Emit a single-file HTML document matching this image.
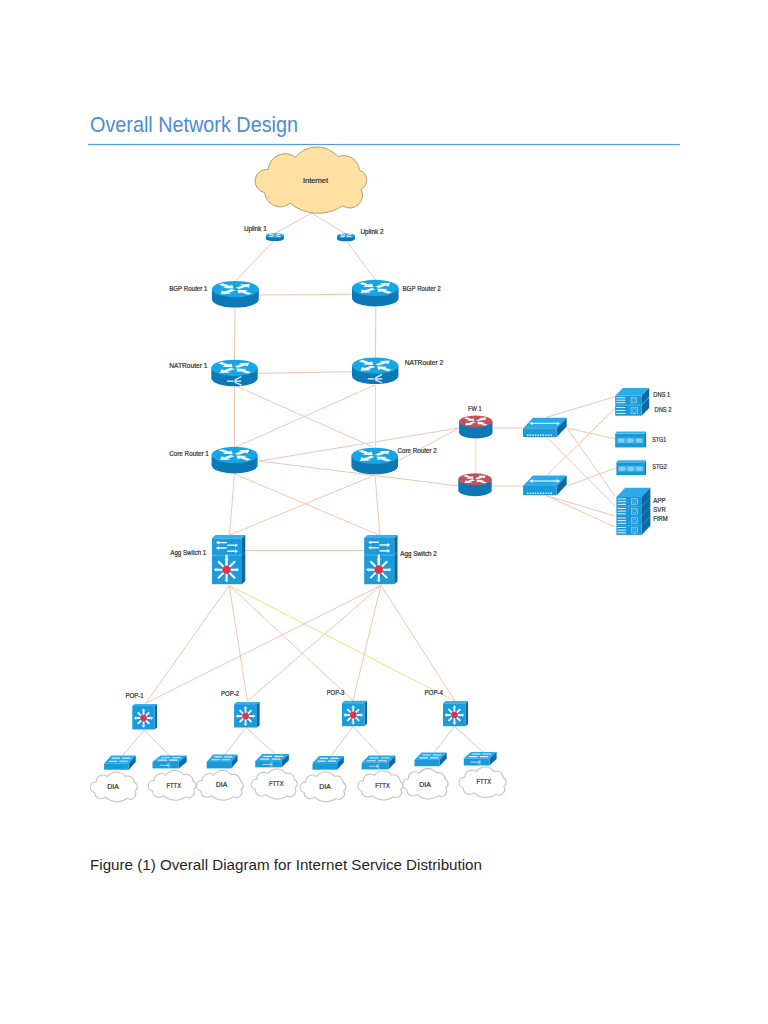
<!DOCTYPE html>
<html><head><meta charset="utf-8"><style>
html,body{margin:0;padding:0;background:#fff;width:768px;height:1024px;overflow:hidden}
svg{position:absolute;left:0;top:0;font-family:"Liberation Sans", sans-serif}
</style></head><body>
<svg width="768" height="1024" viewBox="0 0 768 1024">
<text x="90" y="132.4" font-size="21.6" fill="#4b8cd6" textLength="208" lengthAdjust="spacingAndGlyphs">Overall Network Design</text>
<rect x="88" y="143.9" width="592" height="1.2" fill="#5b96d8"/>
<line x1="311.5" y1="213" x2="275" y2="233.5" stroke="#efc6b0" stroke-width="1.0"/>
<line x1="311.5" y1="213" x2="346" y2="234" stroke="#efc6b0" stroke-width="1.0"/>
<line x1="274" y1="240.5" x2="235.5" y2="281" stroke="#efc6b0" stroke-width="1.0"/>
<line x1="346" y1="240.5" x2="375.5" y2="280" stroke="#efc6b0" stroke-width="1.0"/>
<line x1="258.7" y1="295" x2="352" y2="294.3" stroke="#efc6b0" stroke-width="1.0"/>
<line x1="235" y1="308" x2="234.5" y2="360" stroke="#efc6b0" stroke-width="1.0"/>
<line x1="375.8" y1="307" x2="375.5" y2="357.5" stroke="#efc6b0" stroke-width="1.0"/>
<line x1="257.5" y1="373.3" x2="352" y2="371.7" stroke="#efc6b0" stroke-width="1.0"/>
<line x1="234.5" y1="386" x2="234.5" y2="447" stroke="#efc6b0" stroke-width="1.0"/>
<line x1="236" y1="386" x2="373" y2="447" stroke="#efc6b0" stroke-width="1.0"/>
<line x1="375" y1="385" x2="236" y2="447" stroke="#efc6b0" stroke-width="1.0"/>
<line x1="375.5" y1="385" x2="375.5" y2="448" stroke="#f2dc86" stroke-width="1.0"/>
<line x1="259" y1="461" x2="459" y2="428" stroke="#efc6b0" stroke-width="1.0"/>
<line x1="259" y1="461" x2="459" y2="486" stroke="#efc6b0" stroke-width="1.0"/>
<line x1="398" y1="461" x2="459" y2="428" stroke="#efc6b0" stroke-width="1.0"/>
<line x1="234.5" y1="474" x2="229.5" y2="535" stroke="#efc6b0" stroke-width="1.0"/>
<line x1="234.5" y1="474" x2="379" y2="535" stroke="#efc6b0" stroke-width="1.0"/>
<line x1="375" y1="475" x2="230" y2="535" stroke="#efc6b0" stroke-width="1.0"/>
<line x1="375" y1="475" x2="380" y2="535" stroke="#efc6b0" stroke-width="1.0"/>
<line x1="245" y1="550.5" x2="364" y2="550.5" stroke="#efc6b0" stroke-width="1.0"/>
<line x1="475.8" y1="438" x2="475.8" y2="473" stroke="#f2dc86" stroke-width="1.0"/>
<line x1="492.5" y1="428" x2="523" y2="428" stroke="#efc6b0" stroke-width="1.0"/>
<line x1="491.7" y1="486" x2="523" y2="486" stroke="#efc6b0" stroke-width="1.0"/>
<line x1="546" y1="417.5" x2="615" y2="396.6" stroke="#efc6b0" stroke-width="1.0"/>
<line x1="567" y1="428" x2="615.5" y2="439" stroke="#efc6b0" stroke-width="1.0"/>
<line x1="567" y1="428" x2="615" y2="496" stroke="#efc6b0" stroke-width="1.0"/>
<line x1="546.6" y1="437" x2="615" y2="506" stroke="#efc6b0" stroke-width="1.0"/>
<line x1="546.6" y1="475.5" x2="615" y2="408.3" stroke="#efc6b0" stroke-width="1.0"/>
<line x1="567.5" y1="486" x2="616.4" y2="467.7" stroke="#efc6b0" stroke-width="1.0"/>
<line x1="546" y1="495.5" x2="615" y2="516" stroke="#efc6b0" stroke-width="1.0"/>
<line x1="546" y1="495.5" x2="615" y2="527" stroke="#efc6b0" stroke-width="1.0"/>
<line x1="229.2" y1="585.4" x2="145.6" y2="703.4" stroke="#efc6b0" stroke-width="1.0"/>
<line x1="229.2" y1="585.4" x2="247.5" y2="701" stroke="#efc6b0" stroke-width="1.0"/>
<line x1="229.2" y1="585.4" x2="353" y2="700.5" stroke="#efc6b0" stroke-width="1.0"/>
<line x1="229.2" y1="585.4" x2="455" y2="701" stroke="#f2dc86" stroke-width="1.0"/>
<line x1="381" y1="585.4" x2="145.6" y2="703.4" stroke="#efc6b0" stroke-width="1.0"/>
<line x1="381" y1="585.4" x2="247.5" y2="701" stroke="#efc6b0" stroke-width="1.0"/>
<line x1="381" y1="585.4" x2="353" y2="700.5" stroke="#efc6b0" stroke-width="1.0"/>
<line x1="381" y1="585.4" x2="455" y2="701" stroke="#efc6b0" stroke-width="1.0"/>
<line x1="144.3" y1="730" x2="122.5" y2="755.6" stroke="#c4cce6" stroke-width="1.0"/>
<line x1="144.3" y1="730" x2="169.4" y2="755.6" stroke="#c4cce6" stroke-width="1.0"/>
<line x1="246" y1="727.5" x2="225" y2="754.5" stroke="#c4cce6" stroke-width="1.0"/>
<line x1="246" y1="727.5" x2="275" y2="754" stroke="#c4cce6" stroke-width="1.0"/>
<line x1="353" y1="726.5" x2="331" y2="756" stroke="#c4cce6" stroke-width="1.0"/>
<line x1="353" y1="726.5" x2="380" y2="755.6" stroke="#c4cce6" stroke-width="1.0"/>
<line x1="454.5" y1="726.5" x2="434" y2="752.5" stroke="#c4cce6" stroke-width="1.0"/>
<line x1="454.5" y1="726.5" x2="483" y2="752" stroke="#c4cce6" stroke-width="1.0"/>
<path d="M268.22,169.54 A17.02,17.02 0 0 1 295.29,157.12 A28.18,28.18 0 0 1 338.14,156.66 A15.79,15.79 0 0 1 359.50,170.30 A10.24,10.24 0 0 1 361.00,189.24 A12.78,12.78 0 0 1 342.66,205.91 A44.31,44.31 0 0 1 290.02,203.18 A15.43,15.43 0 0 1 264.76,192.58 A11.65,11.65 0 0 1 268.22,169.54 Z" fill="#fde0a2" stroke="#9a8550" stroke-width="0.75" stroke-linejoin="round"/>
<path d="M265.9,235.5 L265.9,238.8 A9,2.3 0 0 0 283.9,238.8 L283.9,235.5 Z" fill="#0d78b6"/>
<ellipse cx="274.9" cy="235.5" rx="9" ry="2.3" fill="#18a5e6"/>
<path d="M268.50,234.24 L271.16,234.92 L270.11,235.19 L274.18,235.32 L273.67,234.28 L272.62,234.54 L269.96,233.86Z" fill="#f4fbff"/>
<path d="M281.30,236.76 L278.64,236.08 L279.69,235.81 L275.62,235.68 L276.13,236.72 L277.18,236.46 L279.84,237.14Z" fill="#f4fbff"/>
<path d="M276.35,235.50 L279.01,234.82 L280.06,235.09 L280.57,234.05 L276.50,234.18 L277.55,234.45 L274.89,235.13Z" fill="#f4fbff"/>
<path d="M273.45,235.50 L270.79,236.18 L269.74,235.91 L269.23,236.95 L273.30,236.82 L272.25,236.55 L274.91,235.87Z" fill="#f4fbff"/>
<path d="M337,235.70000000000002 L337,239.00000000000003 A9,2.3 0 0 0 355,239.00000000000003 L355,235.70000000000002 Z" fill="#0d78b6"/>
<ellipse cx="346" cy="235.70000000000002" rx="9" ry="2.3" fill="#18a5e6"/>
<path d="M339.60,234.44 L342.26,235.12 L341.21,235.39 L345.28,235.52 L344.77,234.48 L343.72,234.74 L341.06,234.06Z" fill="#f4fbff"/>
<path d="M352.40,236.96 L349.74,236.28 L350.79,236.01 L346.72,235.88 L347.23,236.92 L348.28,236.66 L350.94,237.34Z" fill="#f4fbff"/>
<path d="M347.45,235.70 L350.11,235.02 L351.16,235.29 L351.67,234.25 L347.60,234.38 L348.65,234.65 L345.99,235.33Z" fill="#f4fbff"/>
<path d="M344.55,235.70 L341.89,236.38 L340.84,236.11 L340.33,237.15 L344.40,237.02 L343.35,236.75 L346.01,236.07Z" fill="#f4fbff"/>
<path d="M212.0,289.1 L212.0,299.5 A23.4,8.1 0 0 0 258.8,299.5 L258.8,289.1 Z" fill="#0d78b6"/>
<ellipse cx="235.4" cy="289.1" rx="23.4" ry="8.1" fill="#18a5e6"/>
<path d="M218.76,284.66 L225.67,287.05 L222.94,287.99 L233.53,288.45 L232.20,284.79 L229.47,285.73 L222.56,283.34Z" fill="#f4fbff"/>
<path d="M252.04,293.54 L245.13,291.15 L247.86,290.21 L237.27,289.75 L238.60,293.41 L241.33,292.47 L248.24,294.86Z" fill="#f4fbff"/>
<path d="M239.17,289.11 L246.09,286.72 L248.82,287.66 L250.14,284.00 L239.55,284.46 L242.28,285.40 L235.37,287.79Z" fill="#f4fbff"/>
<path d="M231.63,289.09 L224.71,291.48 L221.98,290.54 L220.66,294.20 L231.25,293.74 L228.52,292.80 L235.43,290.41Z" fill="#f4fbff"/>
<path d="M352.0,287.90000000000003 L352.0,298.3 A23.3,8.1 0 0 0 398.6,298.3 L398.6,287.90000000000003 Z" fill="#0d78b6"/>
<ellipse cx="375.3" cy="287.90000000000003" rx="23.3" ry="8.1" fill="#18a5e6"/>
<path d="M358.73,283.46 L365.61,285.85 L362.89,286.79 L373.44,287.25 L372.12,283.59 L369.40,284.53 L362.52,282.14Z" fill="#f4fbff"/>
<path d="M391.87,292.34 L384.99,289.95 L387.71,289.01 L377.16,288.55 L378.48,292.21 L381.20,291.27 L388.08,293.66Z" fill="#f4fbff"/>
<path d="M379.06,287.91 L385.94,285.52 L388.66,286.46 L389.98,282.80 L379.43,283.26 L382.15,284.20 L375.27,286.59Z" fill="#f4fbff"/>
<path d="M371.54,287.89 L364.66,290.28 L361.94,289.34 L360.62,293.00 L371.17,292.54 L368.45,291.60 L375.33,289.21Z" fill="#f4fbff"/>
<path d="M211.3,367.8 L211.3,378.2 A23.2,8.1 0 0 0 257.7,378.2 L257.7,367.8 Z" fill="#0d78b6"/>
<ellipse cx="234.5" cy="367.8" rx="23.2" ry="8.1" fill="#18a5e6"/>
<path d="M218.00,363.36 L224.85,365.75 L222.14,366.69 L232.64,367.15 L231.33,363.49 L228.62,364.43 L221.77,362.04Z" fill="#f4fbff"/>
<path d="M251.00,372.24 L244.15,369.85 L246.86,368.91 L236.36,368.45 L237.67,372.11 L240.38,371.17 L247.23,373.56Z" fill="#f4fbff"/>
<path d="M238.24,367.81 L245.10,365.42 L247.80,366.36 L249.12,362.70 L238.62,363.16 L241.32,364.10 L234.47,366.49Z" fill="#f4fbff"/>
<path d="M230.76,367.79 L223.90,370.18 L221.20,369.24 L219.88,372.90 L230.38,372.44 L227.68,371.50 L234.53,369.11Z" fill="#f4fbff"/>
<g stroke="#e6f6ff" stroke-width="1.2" fill="none" stroke-linecap="round"><line x1="227.5" y1="381.1" x2="233.3" y2="381.1"/><path d="M241.0,376.8 L235.1,379.90000000000003 L235.1,382.3 L241.0,384.90000000000003 M235.1,381.1 L241.0,381.1"/></g>
<path d="M352.0,365.6 L352.0,376.0 A23.2,8.1 0 0 0 398.4,376.0 L398.4,365.6 Z" fill="#0d78b6"/>
<ellipse cx="375.2" cy="365.6" rx="23.2" ry="8.1" fill="#18a5e6"/>
<path d="M358.70,361.16 L365.55,363.55 L362.84,364.49 L373.34,364.95 L372.03,361.29 L369.32,362.23 L362.47,359.84Z" fill="#f4fbff"/>
<path d="M391.70,370.04 L384.85,367.65 L387.56,366.71 L377.06,366.25 L378.37,369.91 L381.08,368.97 L387.93,371.36Z" fill="#f4fbff"/>
<path d="M378.94,365.61 L385.80,363.22 L388.50,364.16 L389.82,360.50 L379.32,360.96 L382.02,361.90 L375.17,364.29Z" fill="#f4fbff"/>
<path d="M371.46,365.59 L364.60,367.98 L361.90,367.04 L360.58,370.70 L371.08,370.24 L368.38,369.30 L375.23,366.91Z" fill="#f4fbff"/>
<g stroke="#e6f6ff" stroke-width="1.2" fill="none" stroke-linecap="round"><line x1="368.2" y1="378.90000000000003" x2="374.0" y2="378.90000000000003"/><path d="M381.7,374.6 L375.8,377.70000000000005 L375.8,380.1 L381.7,382.70000000000005 M375.8,378.90000000000003 L381.7,378.90000000000003"/></g>
<path d="M211.6,454.90000000000003 L211.6,465.3 A23,8.1 0 0 0 257.6,465.3 L257.6,454.90000000000003 Z" fill="#0d78b6"/>
<ellipse cx="234.6" cy="454.90000000000003" rx="23" ry="8.1" fill="#18a5e6"/>
<path d="M218.24,450.46 L225.03,452.85 L222.35,453.79 L232.76,454.25 L231.46,450.59 L228.78,451.53 L221.98,449.14Z" fill="#f4fbff"/>
<path d="M250.96,459.34 L244.17,456.95 L246.85,456.01 L236.44,455.55 L237.74,459.21 L240.42,458.27 L247.22,460.66Z" fill="#f4fbff"/>
<path d="M238.31,454.91 L245.11,452.52 L247.79,453.46 L249.09,449.80 L238.68,450.26 L241.36,451.20 L234.57,453.59Z" fill="#f4fbff"/>
<path d="M230.89,454.89 L224.09,457.28 L221.41,456.34 L220.11,460.00 L230.52,459.54 L227.84,458.60 L234.63,456.21Z" fill="#f4fbff"/>
<path d="M351.4,455.8 L351.4,466.2 A23.3,8.1 0 0 0 398.0,466.2 L398.0,455.8 Z" fill="#0d78b6"/>
<ellipse cx="374.7" cy="455.8" rx="23.3" ry="8.1" fill="#18a5e6"/>
<path d="M358.13,451.36 L365.01,453.75 L362.29,454.69 L372.84,455.15 L371.52,451.49 L368.80,452.43 L361.92,450.04Z" fill="#f4fbff"/>
<path d="M391.27,460.24 L384.39,457.85 L387.11,456.91 L376.56,456.45 L377.88,460.11 L380.60,459.17 L387.48,461.56Z" fill="#f4fbff"/>
<path d="M378.46,455.81 L385.34,453.42 L388.06,454.36 L389.38,450.70 L378.83,451.16 L381.55,452.10 L374.67,454.49Z" fill="#f4fbff"/>
<path d="M370.94,455.79 L364.06,458.18 L361.34,457.24 L360.02,460.90 L370.57,460.44 L367.85,459.50 L374.73,457.11Z" fill="#f4fbff"/>
<path d="M459.1,421.4 L459.1,432.4 A16.7,6 0 0 0 492.5,432.4 L492.5,421.4 Z" fill="#0d78b6"/>
<ellipse cx="475.8" cy="421.4" rx="16.7" ry="6" fill="#c4505c"/>
<path d="M463.92,418.11 L468.85,419.88 L466.91,420.58 L474.46,420.92 L473.52,418.20 L471.57,418.90 L466.64,417.13Z" fill="#f4fbff"/>
<path d="M487.68,424.69 L482.75,422.92 L484.69,422.22 L477.14,421.88 L478.08,424.60 L480.03,423.90 L484.96,425.67Z" fill="#f4fbff"/>
<path d="M478.49,421.41 L483.43,419.64 L485.38,420.34 L486.32,417.62 L478.76,417.96 L480.71,418.66 L475.78,420.43Z" fill="#f4fbff"/>
<path d="M473.11,421.39 L468.17,423.16 L466.22,422.46 L465.28,425.18 L472.84,424.84 L470.89,424.14 L475.82,422.37Z" fill="#f4fbff"/>
<path d="M458.3,479.3 L458.3,490.3 A16.7,6 0 0 0 491.7,490.3 L491.7,479.3 Z" fill="#0d78b6"/>
<ellipse cx="475" cy="479.3" rx="16.7" ry="6" fill="#c4505c"/>
<path d="M463.12,476.01 L468.05,477.78 L466.11,478.48 L473.66,478.82 L472.72,476.10 L470.77,476.80 L465.84,475.03Z" fill="#f4fbff"/>
<path d="M486.88,482.59 L481.95,480.82 L483.89,480.12 L476.34,479.78 L477.28,482.50 L479.23,481.80 L484.16,483.57Z" fill="#f4fbff"/>
<path d="M477.69,479.31 L482.63,477.54 L484.58,478.24 L485.52,475.52 L477.96,475.86 L479.91,476.56 L474.98,478.33Z" fill="#f4fbff"/>
<path d="M472.31,479.29 L467.37,481.06 L465.42,480.36 L464.48,483.08 L472.04,482.74 L470.09,482.04 L475.02,480.27Z" fill="#f4fbff"/>
<path d="M523,428.4 L533,417.8 L566.7,417.8 L556.7,428.4 Z" fill="#2aaae8"/>
<path d="M556.7,428.4 L566.7,417.8 L566.7,426.40000000000003 L556.7,437 Z" fill="#0b6aa6"/>
<rect x="523" y="428.4" width="33.700000000000045" height="8.600000000000023" fill="#1a9ad9"/>
<g fill="#f0faff"><rect x="531.7" y="422.85" width="26.0" height="1.1"/><path d="M529.2,423.40000000000003 L532.7,421.70000000000005 L532.7,425.1 Z"/><path d="M560.2,423.40000000000003 L556.7,421.70000000000005 L556.7,425.1 Z"/></g>
<g fill="#e8f6fd"><rect x="527.00" y="434.4" width="1.5" height="1.4"/><rect x="529.60" y="434.4" width="1.5" height="1.4"/><rect x="532.20" y="434.4" width="1.5" height="1.4"/><rect x="534.80" y="434.4" width="1.5" height="1.4"/><rect x="537.40" y="434.4" width="1.5" height="1.4"/><rect x="540.00" y="434.4" width="1.5" height="1.4"/><rect x="542.60" y="434.4" width="1.5" height="1.4"/><rect x="545.20" y="434.4" width="1.5" height="1.4"/><rect x="547.80" y="434.4" width="1.5" height="1.4"/><rect x="550.40" y="434.4" width="1.5" height="1.4"/></g>
<path d="M523,486.0 L533,475.4 L566.7,475.4 L556.7,486.0 Z" fill="#2aaae8"/>
<path d="M556.7,486.0 L566.7,475.4 L566.7,484.59999999999997 L556.7,495.2 Z" fill="#0b6aa6"/>
<rect x="523" y="486.0" width="33.700000000000045" height="9.199999999999989" fill="#1a9ad9"/>
<g fill="#f0faff"><rect x="531.7" y="480.45" width="26.0" height="1.1"/><path d="M529.2,481.0 L532.7,479.3 L532.7,482.7 Z"/><path d="M560.2,481.0 L556.7,479.3 L556.7,482.7 Z"/></g>
<g fill="#e8f6fd"><rect x="527.00" y="492.59999999999997" width="1.5" height="1.4"/><rect x="529.60" y="492.59999999999997" width="1.5" height="1.4"/><rect x="532.20" y="492.59999999999997" width="1.5" height="1.4"/><rect x="534.80" y="492.59999999999997" width="1.5" height="1.4"/><rect x="537.40" y="492.59999999999997" width="1.5" height="1.4"/><rect x="540.00" y="492.59999999999997" width="1.5" height="1.4"/><rect x="542.60" y="492.59999999999997" width="1.5" height="1.4"/><rect x="545.20" y="492.59999999999997" width="1.5" height="1.4"/><rect x="547.80" y="492.59999999999997" width="1.5" height="1.4"/><rect x="550.40" y="492.59999999999997" width="1.5" height="1.4"/></g>
<path d="M615.2,405.2 L622.8000000000001,397.4 L649.2,397.4 L641.6,405.2 Z" fill="#5cc2f0"/>
<path d="M641.6,405.2 L649.2,397.4 L649.2,407.9 L641.6,415.7 Z" fill="#0b6aa6"/>
<rect x="615.2" y="405.2" width="26.399999999999977" height="10.5" fill="#1a98d8"/>
<g stroke="#eef9ff" stroke-width="0.95"><line x1="616.2" y1="407.51" x2="625.23" y2="407.51"/><line x1="616.2" y1="410.45" x2="625.23" y2="410.45"/><line x1="616.2" y1="413.39" x2="625.23" y2="413.39"/></g>
<rect x="631.04" y="407.19" width="6.51" height="6.51" fill="none" stroke="#a9dcf5" stroke-width="0.6"/>
<circle cx="634.30" cy="410.45" r="1.95" fill="none" stroke="#a9dcf5" stroke-width="0.5"/>
<path d="M615.2,395.8 L622.8000000000001,388.0 L649.2,388.0 L641.6,395.8 Z" fill="#2eaae6"/>
<path d="M641.6,395.8 L649.2,388.0 L649.2,396.8 L641.6,404.6 Z" fill="#0b6aa6"/>
<rect x="615.2" y="395.8" width="26.399999999999977" height="8.800000000000011" fill="#1a98d8"/>
<g stroke="#eef9ff" stroke-width="0.95"><line x1="616.2" y1="397.74" x2="625.23" y2="397.74"/><line x1="616.2" y1="400.20" x2="625.23" y2="400.20"/><line x1="616.2" y1="402.66" x2="625.23" y2="402.66"/></g>
<rect x="631.04" y="397.47" width="5.46" height="5.46" fill="none" stroke="#a9dcf5" stroke-width="0.6"/>
<circle cx="633.77" cy="400.20" r="1.64" fill="none" stroke="#a9dcf5" stroke-width="0.5"/>
<path d="M615.2,433.6 L616.7,431.6 L646.1,431.6 L645.1,433.6 Z" fill="#3ab2ea"/>
<path d="M645.1,433.6 L646.1,431.6 L646.1,446.4 L645.1,447.4 Z" fill="#0b6aa6"/>
<rect x="615.2" y="433.6" width="29.899999999999977" height="13.799999999999955" fill="#1a98d8"/>
<rect x="616.7" y="437.5" width="26.899999999999977" height="6" fill="#3aaee6"/>
<rect x="617.58" y="438.3" width="7.2" height="4.4" rx="2.2" fill="#6cc6f0"/>
<circle cx="619.98" cy="440.5" r="1.2" fill="none" stroke="#b6e4f8" stroke-width="0.5"/>
<circle cx="622.38" cy="440.5" r="1.2" fill="none" stroke="#b6e4f8" stroke-width="0.5"/>
<rect x="626.55" y="438.3" width="7.2" height="4.4" rx="2.2" fill="#6cc6f0"/>
<circle cx="628.95" cy="440.5" r="1.2" fill="none" stroke="#b6e4f8" stroke-width="0.5"/>
<circle cx="631.35" cy="440.5" r="1.2" fill="none" stroke="#b6e4f8" stroke-width="0.5"/>
<rect x="635.52" y="438.3" width="7.2" height="4.4" rx="2.2" fill="#6cc6f0"/>
<circle cx="637.92" cy="440.5" r="1.2" fill="none" stroke="#b6e4f8" stroke-width="0.5"/>
<circle cx="640.32" cy="440.5" r="1.2" fill="none" stroke="#b6e4f8" stroke-width="0.5"/>
<path d="M616.4,462.3 L617.9,460.3 L646.1,460.3 L645.1,462.3 Z" fill="#3ab2ea"/>
<path d="M645.1,462.3 L646.1,460.3 L646.1,474.2 L645.1,475.2 Z" fill="#0b6aa6"/>
<rect x="616.4" y="462.3" width="28.700000000000045" height="12.899999999999977" fill="#1a98d8"/>
<rect x="617.9" y="465.75" width="25.700000000000045" height="6" fill="#3aaee6"/>
<rect x="618.54" y="466.55" width="7.2" height="4.4" rx="2.2" fill="#6cc6f0"/>
<circle cx="620.94" cy="468.75" r="1.2" fill="none" stroke="#b6e4f8" stroke-width="0.5"/>
<circle cx="623.34" cy="468.75" r="1.2" fill="none" stroke="#b6e4f8" stroke-width="0.5"/>
<rect x="627.15" y="466.55" width="7.2" height="4.4" rx="2.2" fill="#6cc6f0"/>
<circle cx="629.55" cy="468.75" r="1.2" fill="none" stroke="#b6e4f8" stroke-width="0.5"/>
<circle cx="631.95" cy="468.75" r="1.2" fill="none" stroke="#b6e4f8" stroke-width="0.5"/>
<rect x="635.76" y="466.55" width="7.2" height="4.4" rx="2.2" fill="#6cc6f0"/>
<circle cx="638.16" cy="468.75" r="1.2" fill="none" stroke="#b6e4f8" stroke-width="0.5"/>
<circle cx="640.56" cy="468.75" r="1.2" fill="none" stroke="#b6e4f8" stroke-width="0.5"/>
<path d="M616.4,525.4 L625.1999999999999,516.1999999999999 L650.4,516.1999999999999 L641.6,525.4 Z" fill="#5cc2f0"/>
<path d="M641.6,525.4 L650.4,516.1999999999999 L650.4,525.6999999999999 L641.6,534.9 Z" fill="#0b6aa6"/>
<rect x="616.4" y="525.4" width="25.200000000000045" height="9.5" fill="#1a98d8"/>
<g stroke="#eef9ff" stroke-width="0.95"><line x1="617.4" y1="527.49" x2="625.98" y2="527.49"/><line x1="617.4" y1="530.15" x2="625.98" y2="530.15"/><line x1="617.4" y1="532.81" x2="625.98" y2="532.81"/></g>
<rect x="631.52" y="527.20" width="5.89" height="5.89" fill="none" stroke="#a9dcf5" stroke-width="0.6"/>
<circle cx="634.47" cy="530.15" r="1.77" fill="none" stroke="#a9dcf5" stroke-width="0.5"/>
<path d="M616.4,515.9 L625.1999999999999,506.7 L650.4,506.7 L641.6,515.9 Z" fill="#5cc2f0"/>
<path d="M641.6,515.9 L650.4,506.7 L650.4,516.1999999999999 L641.6,525.4 Z" fill="#0b6aa6"/>
<rect x="616.4" y="515.9" width="25.200000000000045" height="9.5" fill="#1a98d8"/>
<g stroke="#eef9ff" stroke-width="0.95"><line x1="617.4" y1="517.99" x2="625.98" y2="517.99"/><line x1="617.4" y1="520.65" x2="625.98" y2="520.65"/><line x1="617.4" y1="523.31" x2="625.98" y2="523.31"/></g>
<rect x="631.52" y="517.70" width="5.89" height="5.89" fill="none" stroke="#a9dcf5" stroke-width="0.6"/>
<circle cx="634.47" cy="520.65" r="1.77" fill="none" stroke="#a9dcf5" stroke-width="0.5"/>
<path d="M616.4,506.4 L625.1999999999999,497.2 L650.4,497.2 L641.6,506.4 Z" fill="#5cc2f0"/>
<path d="M641.6,506.4 L650.4,497.2 L650.4,506.7 L641.6,515.9 Z" fill="#0b6aa6"/>
<rect x="616.4" y="506.4" width="25.200000000000045" height="9.5" fill="#1a98d8"/>
<g stroke="#eef9ff" stroke-width="0.95"><line x1="617.4" y1="508.49" x2="625.98" y2="508.49"/><line x1="617.4" y1="511.15" x2="625.98" y2="511.15"/><line x1="617.4" y1="513.81" x2="625.98" y2="513.81"/></g>
<rect x="631.52" y="508.20" width="5.89" height="5.89" fill="none" stroke="#a9dcf5" stroke-width="0.6"/>
<circle cx="634.47" cy="511.15" r="1.77" fill="none" stroke="#a9dcf5" stroke-width="0.5"/>
<path d="M616.4,496.9 L625.1999999999999,487.7 L650.4,487.7 L641.6,496.9 Z" fill="#2eaae6"/>
<path d="M641.6,496.9 L650.4,487.7 L650.4,497.2 L641.6,506.4 Z" fill="#0b6aa6"/>
<rect x="616.4" y="496.9" width="25.200000000000045" height="9.5" fill="#1a98d8"/>
<g stroke="#eef9ff" stroke-width="0.95"><line x1="617.4" y1="498.99" x2="625.98" y2="498.99"/><line x1="617.4" y1="501.65" x2="625.98" y2="501.65"/><line x1="617.4" y1="504.31" x2="625.98" y2="504.31"/></g>
<rect x="631.52" y="498.70" width="5.89" height="5.89" fill="none" stroke="#a9dcf5" stroke-width="0.6"/>
<circle cx="634.47" cy="501.65" r="1.77" fill="none" stroke="#a9dcf5" stroke-width="0.5"/>
<path d="M212,538.3 L215.3,535.0 L245.3,535.0 L242,538.3 Z" fill="#35b0ea"/>
<path d="M242,538.3 L245.3,535.0 L245.3,580.9000000000001 L242,584.2 Z" fill="#0a69a3"/>
<rect x="212" y="538.3" width="30" height="45.90000000000009" fill="#1b9bdc"/>
<line x1="212" y1="555.283" x2="242" y2="555.283" stroke="#4cbaf0" stroke-width="1"/>
<line x1="242" y1="555.283" x2="245.3" y2="551.9830000000001" stroke="#3ea0d8" stroke-width="0.8"/>
<g stroke="#fff" stroke-width="1.4" fill="#fff"><line x1="218" y1="542.5999999999999" x2="226.7" y2="542.5999999999999"/><line x1="218" y1="548.0" x2="226.7" y2="548.0"/><line x1="227.3" y1="545.3" x2="236" y2="545.3"/><line x1="227.3" y1="551.1999999999999" x2="236" y2="551.1999999999999"/><path d="M216,542.5999999999999 L219,540.6999999999999 L219,544.4999999999999 Z" stroke="none"/><path d="M216,548.0 L219,546.1 L219,549.9 Z" stroke="none"/><path d="M238,545.3 L235,543.4 L235,547.1999999999999 Z" stroke="none"/><path d="M238,551.1999999999999 L235,549.3 L235,553.0999999999999 Z" stroke="none"/></g>
<line x1="226.55" y1="569.7415" x2="226.55" y2="554.7415" stroke="#fff" stroke-width="2"/>
<g stroke="#fff" stroke-width="2.0" fill="#fff"><line x1="226.55" y1="569.7415" x2="236.63" y2="569.74"/><path d="M239.15,569.74 L236.63,571.84 L236.63,567.64 Z" stroke="none"/><line x1="226.55" y1="569.7415" x2="235.01" y2="578.21"/><line x1="226.55" y1="569.7415" x2="226.55" y2="579.82"/><path d="M226.55,582.34 L224.45,579.82 L228.65,579.82 Z" stroke="none"/><line x1="226.55" y1="569.7415" x2="218.09" y2="578.21"/><line x1="226.55" y1="569.7415" x2="216.47" y2="569.74"/><path d="M213.95,569.74 L216.47,567.64 L216.47,571.84 Z" stroke="none"/><line x1="226.55" y1="569.7415" x2="218.09" y2="561.28"/><line x1="226.55" y1="569.7415" x2="226.55" y2="559.66"/><path d="M226.55,557.14 L228.65,559.66 L224.45,559.66 Z" stroke="none"/><line x1="226.55" y1="569.7415" x2="235.01" y2="561.28"/></g>
<circle cx="226.55" cy="569.7415" r="4.3" fill="#e2334a"/>
<path d="M364.2,538 L367.5,535.0 L397.5,535.0 L394.2,538 Z" fill="#35b0ea"/>
<path d="M394.2,538 L397.5,535.0 L397.5,581.2 L394.2,584.2 Z" fill="#0a69a3"/>
<rect x="364.2" y="538" width="30.0" height="46.200000000000045" fill="#1b9bdc"/>
<line x1="364.2" y1="555.094" x2="394.2" y2="555.094" stroke="#4cbaf0" stroke-width="1"/>
<line x1="394.2" y1="555.094" x2="397.5" y2="552.094" stroke="#3ea0d8" stroke-width="0.8"/>
<g stroke="#fff" stroke-width="1.4" fill="#fff"><line x1="370.2" y1="542.3" x2="378.9" y2="542.3"/><line x1="370.2" y1="547.7" x2="378.9" y2="547.7"/><line x1="379.5" y1="545.0" x2="388.2" y2="545.0"/><line x1="379.5" y1="550.9" x2="388.2" y2="550.9"/><path d="M368.2,542.3 L371.2,540.4 L371.2,544.1999999999999 Z" stroke="none"/><path d="M368.2,547.7 L371.2,545.8000000000001 L371.2,549.6 Z" stroke="none"/><path d="M390.2,545.0 L387.2,543.1 L387.2,546.9 Z" stroke="none"/><path d="M390.2,550.9 L387.2,549.0 L387.2,552.8 Z" stroke="none"/></g>
<line x1="378.75" y1="569.647" x2="378.75" y2="554.647" stroke="#fff" stroke-width="2"/>
<g stroke="#fff" stroke-width="2.0" fill="#fff"><line x1="378.75" y1="569.647" x2="388.83" y2="569.65"/><path d="M391.35,569.65 L388.83,571.75 L388.83,567.55 Z" stroke="none"/><line x1="378.75" y1="569.647" x2="387.21" y2="578.11"/><line x1="378.75" y1="569.647" x2="378.75" y2="579.73"/><path d="M378.75,582.25 L376.65,579.73 L380.85,579.73 Z" stroke="none"/><line x1="378.75" y1="569.647" x2="370.29" y2="578.11"/><line x1="378.75" y1="569.647" x2="368.67" y2="569.65"/><path d="M366.15,569.65 L368.67,567.55 L368.67,571.75 Z" stroke="none"/><line x1="378.75" y1="569.647" x2="370.29" y2="561.18"/><line x1="378.75" y1="569.647" x2="378.75" y2="559.57"/><path d="M378.75,557.05 L380.85,559.57 L376.65,559.57 Z" stroke="none"/><line x1="378.75" y1="569.647" x2="387.21" y2="561.18"/></g>
<circle cx="378.75" cy="569.647" r="4.3" fill="#e2334a"/>
<path d="M132.3,706 L134.60000000000002,704.1 L157.0,704.1 L154.7,706 Z" fill="#35b0ea"/>
<path d="M154.7,706 L157.0,704.1 L157.0,727.6 L154.7,729.5 Z" fill="#0a69a3"/>
<rect x="132.3" y="706" width="22.399999999999977" height="23.5" fill="#1b9bdc"/>
<g stroke="#fff" stroke-width="1.75" fill="#fff"><line x1="143.5" y1="718.05" x2="150.85" y2="718.05"/><path d="M153.13,718.05 L150.85,719.95 L150.85,716.15 Z" stroke="none"/><line x1="143.5" y1="718.05" x2="149.29" y2="723.84"/><line x1="143.5" y1="718.05" x2="143.50" y2="725.40"/><path d="M143.50,727.68 L141.60,725.40 L145.40,725.40 Z" stroke="none"/><line x1="143.5" y1="718.05" x2="137.71" y2="723.84"/><line x1="143.5" y1="718.05" x2="136.15" y2="718.05"/><path d="M133.87,718.05 L136.15,716.15 L136.15,719.95 Z" stroke="none"/><line x1="143.5" y1="718.05" x2="137.71" y2="712.26"/><line x1="143.5" y1="718.05" x2="143.50" y2="710.70"/><path d="M143.50,708.42 L145.40,710.70 L141.60,710.70 Z" stroke="none"/><line x1="143.5" y1="718.05" x2="149.29" y2="712.26"/></g>
<circle cx="143.5" cy="718.05" r="3.3599999999999963" fill="#e2334a"/>
<path d="M234.1,704.1 L236.7,701.9 L259.6,701.9 L257,704.1 Z" fill="#35b0ea"/>
<path d="M257,704.1 L259.6,701.9 L259.6,725.3 L257,727.5 Z" fill="#0a69a3"/>
<rect x="234.1" y="704.1" width="22.900000000000006" height="23.399999999999977" fill="#1b9bdc"/>
<g stroke="#fff" stroke-width="1.75" fill="#fff"><line x1="245.55" y1="716.0999999999999" x2="253.12" y2="716.10"/><path d="M255.40,716.10 L253.12,718.00 L253.12,714.20 Z" stroke="none"/><line x1="245.55" y1="716.0999999999999" x2="251.47" y2="722.02"/><line x1="245.55" y1="716.0999999999999" x2="245.55" y2="723.67"/><path d="M245.55,725.95 L243.65,723.67 L247.45,723.67 Z" stroke="none"/><line x1="245.55" y1="716.0999999999999" x2="239.63" y2="722.02"/><line x1="245.55" y1="716.0999999999999" x2="237.98" y2="716.10"/><path d="M235.70,716.10 L237.98,714.20 L237.98,718.00 Z" stroke="none"/><line x1="245.55" y1="716.0999999999999" x2="239.63" y2="710.18"/><line x1="245.55" y1="716.0999999999999" x2="245.55" y2="708.53"/><path d="M245.55,706.25 L247.45,708.53 L243.65,708.53 Z" stroke="none"/><line x1="245.55" y1="716.0999999999999" x2="251.47" y2="710.18"/></g>
<circle cx="245.55" cy="716.0999999999999" r="3.435000000000001" fill="#e2334a"/>
<path d="M341.9,703.2 L344.4,700.8000000000001 L367.0,700.8000000000001 L364.5,703.2 Z" fill="#35b0ea"/>
<path d="M364.5,703.2 L367.0,700.8000000000001 L367.0,723.8000000000001 L364.5,726.2 Z" fill="#0a69a3"/>
<rect x="341.9" y="703.2" width="22.600000000000023" height="23.0" fill="#1b9bdc"/>
<g stroke="#fff" stroke-width="1.75" fill="#fff"><line x1="353.2" y1="715.0" x2="360.64" y2="715.00"/><path d="M362.92,715.00 L360.64,716.90 L360.64,713.10 Z" stroke="none"/><line x1="353.2" y1="715.0" x2="359.04" y2="720.84"/><line x1="353.2" y1="715.0" x2="353.20" y2="722.44"/><path d="M353.20,724.72 L351.30,722.44 L355.10,722.44 Z" stroke="none"/><line x1="353.2" y1="715.0" x2="347.36" y2="720.84"/><line x1="353.2" y1="715.0" x2="345.76" y2="715.00"/><path d="M343.48,715.00 L345.76,713.10 L345.76,716.90 Z" stroke="none"/><line x1="353.2" y1="715.0" x2="347.36" y2="709.16"/><line x1="353.2" y1="715.0" x2="353.20" y2="707.56"/><path d="M353.20,705.28 L355.10,707.56 L351.30,707.56 Z" stroke="none"/><line x1="353.2" y1="715.0" x2="359.04" y2="709.16"/></g>
<circle cx="353.2" cy="715.0" r="3.3900000000000032" fill="#e2334a"/>
<path d="M443,703.4 L445.2,701.1 L468.0,701.1 L465.8,703.4 Z" fill="#35b0ea"/>
<path d="M465.8,703.4 L468.0,701.1 L468.0,723.9000000000001 L465.8,726.2 Z" fill="#0a69a3"/>
<rect x="443" y="703.4" width="22.80000000000001" height="22.800000000000068" fill="#1b9bdc"/>
<g stroke="#fff" stroke-width="1.75" fill="#fff"><line x1="454.4" y1="715.0999999999999" x2="461.92" y2="715.10"/><path d="M464.20,715.10 L461.92,717.00 L461.92,713.20 Z" stroke="none"/><line x1="454.4" y1="715.0999999999999" x2="460.29" y2="720.99"/><line x1="454.4" y1="715.0999999999999" x2="454.40" y2="722.62"/><path d="M454.40,724.90 L452.50,722.62 L456.30,722.62 Z" stroke="none"/><line x1="454.4" y1="715.0999999999999" x2="448.51" y2="720.99"/><line x1="454.4" y1="715.0999999999999" x2="446.88" y2="715.10"/><path d="M444.60,715.10 L446.88,713.20 L446.88,717.00 Z" stroke="none"/><line x1="454.4" y1="715.0999999999999" x2="448.51" y2="709.21"/><line x1="454.4" y1="715.0999999999999" x2="454.40" y2="707.58"/><path d="M454.40,705.30 L456.30,707.58 L452.50,707.58 Z" stroke="none"/><line x1="454.4" y1="715.0999999999999" x2="460.29" y2="709.21"/></g>
<circle cx="454.4" cy="715.0999999999999" r="3.4200000000000017" fill="#e2334a"/>
<path d="M104.1,763.4 L111.1,755.6 L135.75,755.6 L128.75,763.4 Z" fill="#2aaae8"/>
<path d="M128.75,763.4 L135.75,755.6 L135.75,761.9000000000001 L128.75,769.7 Z" fill="#0b6aa6"/>
<rect x="104.1" y="763.4" width="24.650000000000006" height="6.300000000000068" fill="#1a9ad9"/>
<g stroke="#d8f0fb" stroke-width="1.1" stroke-linecap="round"><line x1="112.24" y1="758.17" x2="119.64" y2="758.17"/><line x1="122.59" y1="758.17" x2="129.99" y2="758.17"/><line x1="109.51" y1="761.22" x2="116.91" y2="761.22"/><line x1="119.86" y1="761.22" x2="127.26" y2="761.22"/></g>
<path d="M152.5,761.9 L160.4,755.6 L186.65,755.6 L178.75,761.9 Z" fill="#2aaae8"/>
<path d="M178.75,761.9 L186.65,755.6 L186.65,762.1 L178.75,768.4 Z" fill="#0b6aa6"/>
<rect x="152.5" y="761.9" width="26.25" height="6.5" fill="#1a9ad9"/>
<g stroke="#d8f0fb" stroke-width="1.1" stroke-linecap="round"><line x1="161.47" y1="757.68" x2="169.34" y2="757.68"/><line x1="172.49" y1="757.68" x2="180.37" y2="757.68"/><line x1="158.39" y1="760.14" x2="166.26" y2="760.14"/><line x1="169.41" y1="760.14" x2="177.29" y2="760.14"/></g>
<g stroke="#c9ebfa" stroke-width="0.8" fill="none"><line x1="159.625" y1="765.35" x2="166.125" y2="765.35"/><path d="M169.625,763.15 L166.625,765.35 L169.625,767.5500000000001 M166.625,765.35 L170.125,765.35"/></g>
<path d="M206.7,761.9 L213.0,754.4 L237.55,754.4 L231.25,761.9 Z" fill="#2aaae8"/>
<path d="M231.25,761.9 L237.55,754.4 L237.55,760.9 L231.25,768.4 Z" fill="#0b6aa6"/>
<rect x="206.7" y="761.9" width="24.55000000000001" height="6.5" fill="#1a9ad9"/>
<g stroke="#d8f0fb" stroke-width="1.1" stroke-linecap="round"><line x1="214.36" y1="756.88" x2="221.72" y2="756.88"/><line x1="224.67" y1="756.88" x2="232.03" y2="756.88"/><line x1="211.90" y1="759.80" x2="219.27" y2="759.80"/><line x1="222.21" y1="759.80" x2="229.58" y2="759.80"/></g>
<path d="M255.2,761.1 L262.4,754 L288.9,754 L281.7,761.1 Z" fill="#2aaae8"/>
<path d="M281.7,761.1 L288.9,754 L288.9,760.1999999999999 L281.7,767.3 Z" fill="#0b6aa6"/>
<rect x="255.2" y="761.1" width="26.5" height="6.199999999999932" fill="#1a9ad9"/>
<g stroke="#d8f0fb" stroke-width="1.1" stroke-linecap="round"><line x1="263.73" y1="756.34" x2="271.68" y2="756.34"/><line x1="274.86" y1="756.34" x2="282.81" y2="756.34"/><line x1="260.93" y1="759.11" x2="268.88" y2="759.11"/><line x1="272.06" y1="759.11" x2="280.01" y2="759.11"/></g>
<g stroke="#c9ebfa" stroke-width="0.8" fill="none"><line x1="262.45" y1="764.4000000000001" x2="268.95" y2="764.4000000000001"/><path d="M272.45,762.2 L269.45,764.4000000000001 L272.45,766.6000000000001 M269.45,764.4000000000001 L272.95,764.4000000000001"/></g>
<path d="M312.5,763.1 L319.1,756 L343.8,756 L337.2,763.1 Z" fill="#2aaae8"/>
<path d="M337.2,763.1 L343.8,756 L343.8,762.6 L337.2,769.7 Z" fill="#0b6aa6"/>
<rect x="312.5" y="763.1" width="24.69999999999999" height="6.600000000000023" fill="#1a9ad9"/>
<g stroke="#d8f0fb" stroke-width="1.1" stroke-linecap="round"><line x1="320.38" y1="758.34" x2="327.79" y2="758.34"/><line x1="330.75" y1="758.34" x2="338.16" y2="758.34"/><line x1="317.81" y1="761.11" x2="325.22" y2="761.11"/><line x1="328.18" y1="761.11" x2="335.59" y2="761.11"/></g>
<path d="M361.7,762.7 L368.7,755.6 L395.3,755.6 L388.3,762.7 Z" fill="#2aaae8"/>
<path d="M388.3,762.7 L395.3,755.6 L395.3,762.3 L388.3,769.4 Z" fill="#0b6aa6"/>
<rect x="361.7" y="762.7" width="26.600000000000023" height="6.699999999999932" fill="#1a9ad9"/>
<g stroke="#d8f0fb" stroke-width="1.1" stroke-linecap="round"><line x1="370.11" y1="757.94" x2="378.09" y2="757.94"/><line x1="381.29" y1="757.94" x2="389.27" y2="757.94"/><line x1="367.38" y1="760.71" x2="375.36" y2="760.71"/><line x1="378.56" y1="760.71" x2="386.54" y2="760.71"/></g>
<g stroke="#c9ebfa" stroke-width="0.8" fill="none"><line x1="369.0" y1="766.25" x2="375.5" y2="766.25"/><path d="M379.0,764.05 L376.0,766.25 L379.0,768.45 M376.0,766.25 L379.5,766.25"/></g>
<path d="M414.5,760 L421.6,752.5 L446.6,752.5 L439.5,760 Z" fill="#2aaae8"/>
<path d="M439.5,760 L446.6,752.5 L446.6,758.75 L439.5,766.25 Z" fill="#0b6aa6"/>
<rect x="414.5" y="760" width="25.0" height="6.25" fill="#1a9ad9"/>
<g stroke="#d8f0fb" stroke-width="1.1" stroke-linecap="round"><line x1="422.76" y1="754.98" x2="430.26" y2="754.98"/><line x1="433.26" y1="754.98" x2="440.76" y2="754.98"/><line x1="419.99" y1="757.90" x2="427.49" y2="757.90"/><line x1="430.49" y1="757.90" x2="437.99" y2="757.90"/></g>
<path d="M463.75,758.4 L470.85,751.9 L496.6,751.9 L489.5,758.4 Z" fill="#2aaae8"/>
<path d="M489.5,758.4 L496.6,751.9 L496.6,759.0 L489.5,765.5 Z" fill="#0b6aa6"/>
<rect x="463.75" y="758.4" width="25.75" height="7.100000000000023" fill="#1a9ad9"/>
<g stroke="#d8f0fb" stroke-width="1.1" stroke-linecap="round"><line x1="472.11" y1="754.04" x2="479.84" y2="754.04"/><line x1="482.93" y1="754.04" x2="490.65" y2="754.04"/><line x1="469.34" y1="756.58" x2="477.07" y2="756.58"/><line x1="480.16" y1="756.58" x2="487.88" y2="756.58"/></g>
<g stroke="#c9ebfa" stroke-width="0.8" fill="none"><line x1="470.625" y1="762.1500000000001" x2="477.125" y2="762.1500000000001"/><path d="M480.625,759.95 L477.625,762.1500000000001 L480.625,764.3500000000001 M477.625,762.1500000000001 L481.125,762.1500000000001"/></g>
<path d="M96.15,782.10 A7.06,7.06 0 0 1 107.46,776.53 A11.27,11.27 0 0 1 125.37,776.33 A6.63,6.63 0 0 1 134.29,782.44 A4.71,4.71 0 0 1 134.92,790.92 A5.51,5.51 0 0 1 127.25,798.39 A17.53,17.53 0 0 1 105.26,797.17 A6.39,6.39 0 0 1 94.70,792.42 A5.22,5.22 0 0 1 96.15,782.10 Z" fill="#ffffff" stroke="#c2c2c2" stroke-width="1.1" stroke-linejoin="round"/>
<path d="M154.06,780.60 A7.20,7.20 0 0 1 165.59,775.03 A11.62,11.62 0 0 1 183.84,774.83 A6.74,6.74 0 0 1 192.93,780.94 A4.68,4.68 0 0 1 193.57,789.42 A5.57,5.57 0 0 1 185.76,796.89 A18.14,18.14 0 0 1 163.34,795.67 A6.52,6.52 0 0 1 152.58,790.92 A5.22,5.22 0 0 1 154.06,780.60 Z" fill="#ffffff" stroke="#c2c2c2" stroke-width="1.1" stroke-linejoin="round"/>
<path d="M202.25,780.60 A7.06,7.06 0 0 1 213.56,775.03 A11.27,11.27 0 0 1 231.47,774.83 A6.63,6.63 0 0 1 240.39,780.94 A4.71,4.71 0 0 1 241.02,789.42 A5.51,5.51 0 0 1 233.35,796.89 A17.53,17.53 0 0 1 211.36,795.67 A6.39,6.39 0 0 1 200.80,790.92 A5.22,5.22 0 0 1 202.25,780.60 Z" fill="#ffffff" stroke="#c2c2c2" stroke-width="1.1" stroke-linejoin="round"/>
<path d="M256.81,779.20 A6.93,6.93 0 0 1 267.94,773.58 A10.92,10.92 0 0 1 285.56,773.37 A6.55,6.55 0 0 1 294.34,779.54 A4.81,4.81 0 0 1 294.96,788.11 A5.50,5.50 0 0 1 287.41,795.66 A16.91,16.91 0 0 1 265.77,794.42 A6.27,6.27 0 0 1 255.39,789.62 A5.29,5.29 0 0 1 256.81,779.20 Z" fill="#ffffff" stroke="#c2c2c2" stroke-width="1.1" stroke-linejoin="round"/>
<path d="M305.55,782.10 A6.93,6.93 0 0 1 316.67,776.53 A10.96,10.96 0 0 1 334.27,776.33 A6.53,6.53 0 0 1 343.04,782.44 A4.75,4.75 0 0 1 343.66,790.92 A5.46,5.46 0 0 1 336.12,798.39 A17.01,17.01 0 0 1 314.51,797.17 A6.27,6.27 0 0 1 304.13,792.42 A5.23,5.23 0 0 1 305.55,782.10 Z" fill="#ffffff" stroke="#c2c2c2" stroke-width="1.1" stroke-linejoin="round"/>
<path d="M363.26,780.86 A6.81,6.81 0 0 1 374.18,775.42 A10.81,10.81 0 0 1 391.48,775.23 A6.41,6.41 0 0 1 400.09,781.19 A4.62,4.62 0 0 1 400.70,789.48 A5.35,5.35 0 0 1 393.30,796.77 A16.79,16.79 0 0 1 372.06,795.58 A6.16,6.16 0 0 1 361.86,790.94 A5.10,5.10 0 0 1 363.26,780.86 Z" fill="#ffffff" stroke="#c2c2c2" stroke-width="1.1" stroke-linejoin="round"/>
<path d="M408.27,778.94 A6.81,6.81 0 0 1 419.22,773.24 A10.56,10.56 0 0 1 436.55,773.03 A6.47,6.47 0 0 1 445.19,779.28 A4.94,4.94 0 0 1 445.80,787.97 A5.49,5.49 0 0 1 438.37,795.61 A16.27,16.27 0 0 1 417.09,794.36 A6.15,6.15 0 0 1 406.87,789.50 A5.37,5.37 0 0 1 408.27,778.94 Z" fill="#ffffff" stroke="#c2c2c2" stroke-width="1.1" stroke-linejoin="round"/>
<path d="M464.70,777.37 A7.12,7.12 0 0 1 476.12,771.65 A11.26,11.26 0 0 1 494.20,771.44 A6.71,6.71 0 0 1 503.21,777.72 A4.87,4.87 0 0 1 503.85,786.43 A5.61,5.61 0 0 1 496.11,794.10 A17.47,17.47 0 0 1 473.90,792.85 A6.44,6.44 0 0 1 463.24,787.97 A5.37,5.37 0 0 1 464.70,777.37 Z" fill="#ffffff" stroke="#c2c2c2" stroke-width="1.1" stroke-linejoin="round"/>
<text x="303.0" y="182.5" font-size="7" fill="#333333" stroke="#333333" stroke-width="0.22" textLength="25" lengthAdjust="spacingAndGlyphs">Internet</text>
<text x="243.9" y="231.25" font-size="6.8" fill="#333333" stroke="#333333" stroke-width="0.22" textLength="22.8" lengthAdjust="spacingAndGlyphs">Uplink 1</text>
<text x="360.4" y="233.75" font-size="6.8" fill="#333333" stroke="#333333" stroke-width="0.22" textLength="23.3" lengthAdjust="spacingAndGlyphs">Uplink 2</text>
<text x="169.2" y="290.8" font-size="6.8" fill="#333333" stroke="#333333" stroke-width="0.22" textLength="38.3" lengthAdjust="spacingAndGlyphs">BGP Router 1</text>
<text x="402.5" y="290.7" font-size="6.8" fill="#333333" stroke="#333333" stroke-width="0.22" textLength="38.3" lengthAdjust="spacingAndGlyphs">BGP Router 2</text>
<text x="169.2" y="367.5" font-size="6.8" fill="#333333" stroke="#333333" stroke-width="0.22" textLength="38.3" lengthAdjust="spacingAndGlyphs">NATRouter 1</text>
<text x="404.7" y="365" font-size="6.8" fill="#333333" stroke="#333333" stroke-width="0.22" textLength="38.6" lengthAdjust="spacingAndGlyphs">NATRouter 2</text>
<text x="169.2" y="455.8" font-size="6.8" fill="#333333" stroke="#333333" stroke-width="0.22" textLength="39.6" lengthAdjust="spacingAndGlyphs">Core Router 1</text>
<text x="397.5" y="453" font-size="6.8" fill="#333333" stroke="#333333" stroke-width="0.22" textLength="39.2" lengthAdjust="spacingAndGlyphs">Core Router 2</text>
<text x="468" y="410.8" font-size="6.8" fill="#333333" stroke="#333333" stroke-width="0.22" textLength="13.7" lengthAdjust="spacingAndGlyphs">FW 1</text>
<text x="653.3" y="397.3" font-size="6.8" fill="#333333" stroke="#333333" stroke-width="0.22" textLength="17" lengthAdjust="spacingAndGlyphs">DNS 1</text>
<text x="654.5" y="411.9" font-size="6.8" fill="#333333" stroke="#333333" stroke-width="0.22" textLength="17" lengthAdjust="spacingAndGlyphs">DNS 2</text>
<text x="652.2" y="441.5" font-size="6.8" fill="#333333" stroke="#333333" stroke-width="0.22" textLength="14" lengthAdjust="spacingAndGlyphs">STG1</text>
<text x="652.2" y="469.3" font-size="6.8" fill="#333333" stroke="#333333" stroke-width="0.22" textLength="14.6" lengthAdjust="spacingAndGlyphs">STG2</text>
<text x="653.3" y="502.7" font-size="6.8" fill="#333333" stroke="#333333" stroke-width="0.22" textLength="12.5" lengthAdjust="spacingAndGlyphs">APP</text>
<text x="653.3" y="511.9" font-size="6.8" fill="#333333" stroke="#333333" stroke-width="0.22" textLength="12.5" lengthAdjust="spacingAndGlyphs">SVR</text>
<text x="653.3" y="520.9" font-size="6.8" fill="#333333" stroke="#333333" stroke-width="0.22" textLength="14.4" lengthAdjust="spacingAndGlyphs">FIRM</text>
<text x="170.3" y="555" font-size="6.8" fill="#333333" stroke="#333333" stroke-width="0.22" textLength="36" lengthAdjust="spacingAndGlyphs">Agg Switch 1</text>
<text x="400.3" y="556.3" font-size="6.8" fill="#333333" stroke="#333333" stroke-width="0.22" textLength="36.4" lengthAdjust="spacingAndGlyphs">Agg Switch 2</text>
<text x="125.4" y="697.6" font-size="6.8" fill="#333333" stroke="#333333" stroke-width="0.22" textLength="18.2" lengthAdjust="spacingAndGlyphs">POP-1</text>
<text x="221.1" y="695.6" font-size="6.8" fill="#333333" stroke="#333333" stroke-width="0.22" textLength="18" lengthAdjust="spacingAndGlyphs">POP-2</text>
<text x="326.7" y="695" font-size="6.8" fill="#333333" stroke="#333333" stroke-width="0.22" textLength="17.6" lengthAdjust="spacingAndGlyphs">POP-3</text>
<text x="424.5" y="694.6" font-size="6.8" fill="#333333" stroke="#333333" stroke-width="0.22" textLength="18.5" lengthAdjust="spacingAndGlyphs">POP-4</text>
<text x="107.35" y="788.9" font-size="6.5" fill="#333333" stroke="#333333" stroke-width="0.22" textLength="11.5" lengthAdjust="spacingAndGlyphs">DIA</text>
<text x="166.5" y="787.9" font-size="6.5" fill="#333333" stroke="#333333" stroke-width="0.22" textLength="14.5" lengthAdjust="spacingAndGlyphs">FTTX</text>
<text x="215.85" y="786.8" font-size="6.5" fill="#333333" stroke="#333333" stroke-width="0.22" textLength="11.5" lengthAdjust="spacingAndGlyphs">DIA</text>
<text x="269.0" y="786.05" font-size="6.5" fill="#333333" stroke="#333333" stroke-width="0.22" textLength="14.5" lengthAdjust="spacingAndGlyphs">FTTX</text>
<text x="319.25" y="789.1999999999999" font-size="6.5" fill="#333333" stroke="#333333" stroke-width="0.22" textLength="11.5" lengthAdjust="spacingAndGlyphs">DIA</text>
<text x="375.25" y="787.9" font-size="6.5" fill="#333333" stroke="#333333" stroke-width="0.22" textLength="14.5" lengthAdjust="spacingAndGlyphs">FTTX</text>
<text x="419.25" y="786.5" font-size="6.5" fill="#333333" stroke="#333333" stroke-width="0.22" textLength="11.5" lengthAdjust="spacingAndGlyphs">DIA</text>
<text x="476.5" y="784.1999999999999" font-size="6.5" fill="#333333" stroke="#333333" stroke-width="0.22" textLength="14.5" lengthAdjust="spacingAndGlyphs">FTTX</text>
<text x="90" y="869.6" font-size="15" fill="#262626" textLength="392" lengthAdjust="spacingAndGlyphs">Figure (1) Overall Diagram for Internet Service Distribution</text>
</svg>
</body></html>
